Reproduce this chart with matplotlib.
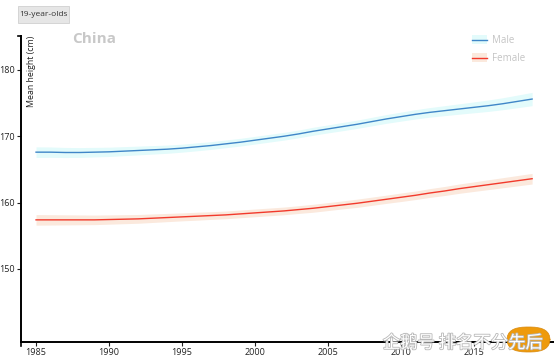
import matplotlib.pyplot as plt
import matplotlib.patheffects as pe
from matplotlib.patches import FancyBboxPatch, Rectangle
from matplotlib.lines import Line2D
from matplotlib.legend_handler import HandlerBase

plt.rcParams['font.family'] = ['Open Sans', 'DejaVu Sans']

# Mean height of 19-year-olds in China (cm)
years = list(range(1985, 2020))
male = [167.6, 167.6, 167.55, 167.55, 167.6, 167.65, 167.75, 167.85, 167.95, 168.05,
        168.2, 168.4, 168.6, 168.85, 169.1, 169.4, 169.7, 170.0, 170.35, 170.75,
        171.1, 171.45, 171.8, 172.2, 172.6, 172.95, 173.3, 173.6, 173.85, 174.1,
        174.35, 174.6, 174.9, 175.25, 175.6]
female = [157.4, 157.4, 157.4, 157.4, 157.4, 157.45, 157.5, 157.55, 157.65, 157.75,
          157.85, 157.95, 158.05, 158.15, 158.3, 158.45, 158.6, 158.75, 158.95, 159.15,
          159.4, 159.65, 159.9, 160.2, 160.5, 160.8, 161.1, 161.45, 161.75, 162.1,
          162.4, 162.7, 163.0, 163.3, 163.6]
# half-width of the uncertainty band (cm)
male_ci = [0.8, 0.78, 0.76, 0.74, 0.72, 0.7, 0.68, 0.66, 0.64, 0.62,
           0.6, 0.6, 0.58, 0.58, 0.58, 0.58, 0.58, 0.58, 0.58, 0.6,
           0.6, 0.62, 0.62, 0.64, 0.66, 0.68, 0.7, 0.72, 0.75, 0.78,
           0.82, 0.86, 0.9, 0.95, 1.0]
female_ci = [0.8, 0.78, 0.76, 0.74, 0.72, 0.7, 0.68, 0.66, 0.64, 0.62,
             0.6, 0.6, 0.58, 0.58, 0.58, 0.58, 0.58, 0.58, 0.58, 0.6,
             0.6, 0.6, 0.62, 0.62, 0.62, 0.64, 0.64, 0.66, 0.68, 0.7,
             0.72, 0.74, 0.76, 0.78, 0.8]

male_line, male_fill = '#3f86c8', '#e3fbfb'
female_line, female_fill = '#f23a2c', '#fbe9dd'

fig = plt.figure(figsize=(5.54, 3.64), dpi=100)
ax = fig.add_axes([21 / 554, 22 / 364, 533 / 554, 306 / 364])

ax.fill_between(years, [m - c for m, c in zip(male, male_ci)],
                [m + c for m, c in zip(male, male_ci)], color=male_fill, lw=0)
ax.fill_between(years, [f - c for f, c in zip(female, female_ci)],
                [f + c for f, c in zip(female, female_ci)], color=female_fill, lw=0)
ax.plot(years, male, color=male_line, lw=1.0)
ax.plot(years, female, color=female_line, lw=1.0)

ax.set_xlim(1983.97, 2020.5)
ax.set_ylim(139.0, 185.1)
ax.set_xticks([1985, 1990, 1995, 2000, 2005, 2010, 2015])
ax.set_yticks([150, 160, 170, 180])
ax.tick_params(direction='out', length=3, width=0.8, labelsize=6.5, colors='#222222', pad=1.5)
for s in ['top', 'right']:
    ax.spines[s].set_visible(False)
for s in ['left', 'bottom']:
    ax.spines[s].set_linewidth(1.4)
# outer end ticks like d3 axis
ax.plot([-0.006, 0], [1, 1], transform=ax.transAxes, color='black', lw=1.2, clip_on=False)
ax.plot([0, 0], [0, -0.012], transform=ax.transAxes, color='black', lw=1.2, clip_on=False)

ax.text(0.012, 1.0, 'Mean height (cm)', transform=ax.transAxes, rotation=90,
        ha='left', va='top', fontsize=6.3, color='#222222')

fig.text(72 / 554, 1 - 39 / 364, 'China', fontsize=11, fontweight='bold',
         color='#c8c8c8', ha='left', va='center')

# "19-year-olds" button
fig.patches.append(Rectangle((18 / 554, 1 - 23 / 364), 51 / 554, 17 / 364,
                             transform=fig.transFigure, facecolor='#e6e6e6',
                             edgecolor='#d0d0d0', lw=0.6))
fig.text(43.5 / 554, 1 - 14.5 / 364, '19-year-olds', fontsize=6, color='#333333',
         ha='center', va='center')


class BandHandler(HandlerBase):
    def __init__(self, fill, line):
        super().__init__()
        self.fill, self.line = fill, line

    def create_artists(self, legend, orig, x0, y0, width, height, fontsize, trans):
        r = Rectangle((x0, y0 - height * 0.15), width, height * 1.3, facecolor=self.fill,
                      lw=0, transform=trans)
        l = Line2D([x0, x0 + width], [y0 + height / 2] * 2, color=self.line, lw=1.0,
                   transform=trans)
        return [r, l]


h1, h2 = object(), object()
leg = fig.legend([h1, h2], ['Male', 'Female'],
                 handler_map={h1: BandHandler(male_fill, male_line),
                              h2: BandHandler(female_fill, female_line)},
                 loc='upper left', bbox_to_anchor=(472 / 554, 1 - 35 / 364), frameon=False,
                 borderpad=0, borderaxespad=0,
                 fontsize=7, handlelength=1.55, handletextpad=0.5, labelspacing=0.75)
for t in leg.get_texts():
    t.set_color('#c4c4c4')

# watermark
fig.patches.append(FancyBboxPatch((507 / 554, 1 - 352 / 364), 43 / 554, 25 / 364,
                                  boxstyle='round,pad=0,rounding_size=0.035',
                                  transform=fig.transFigure, facecolor='#ee9a0c',
                                  edgecolor='#d88a10', lw=0.5, zorder=5))
fig.text(543 / 554, 1 - 343 / 364, '企鹅号 排名不分先后', fontsize=12.5, zorder=6,
         family=['Noto Sans CJK SC', 'DejaVu Sans'], color='white', ha='right', va='center',
         path_effects=[pe.withStroke(linewidth=1.2, foreground='#b8b8b8')])

fig.savefig('out.png', dpi=100)
